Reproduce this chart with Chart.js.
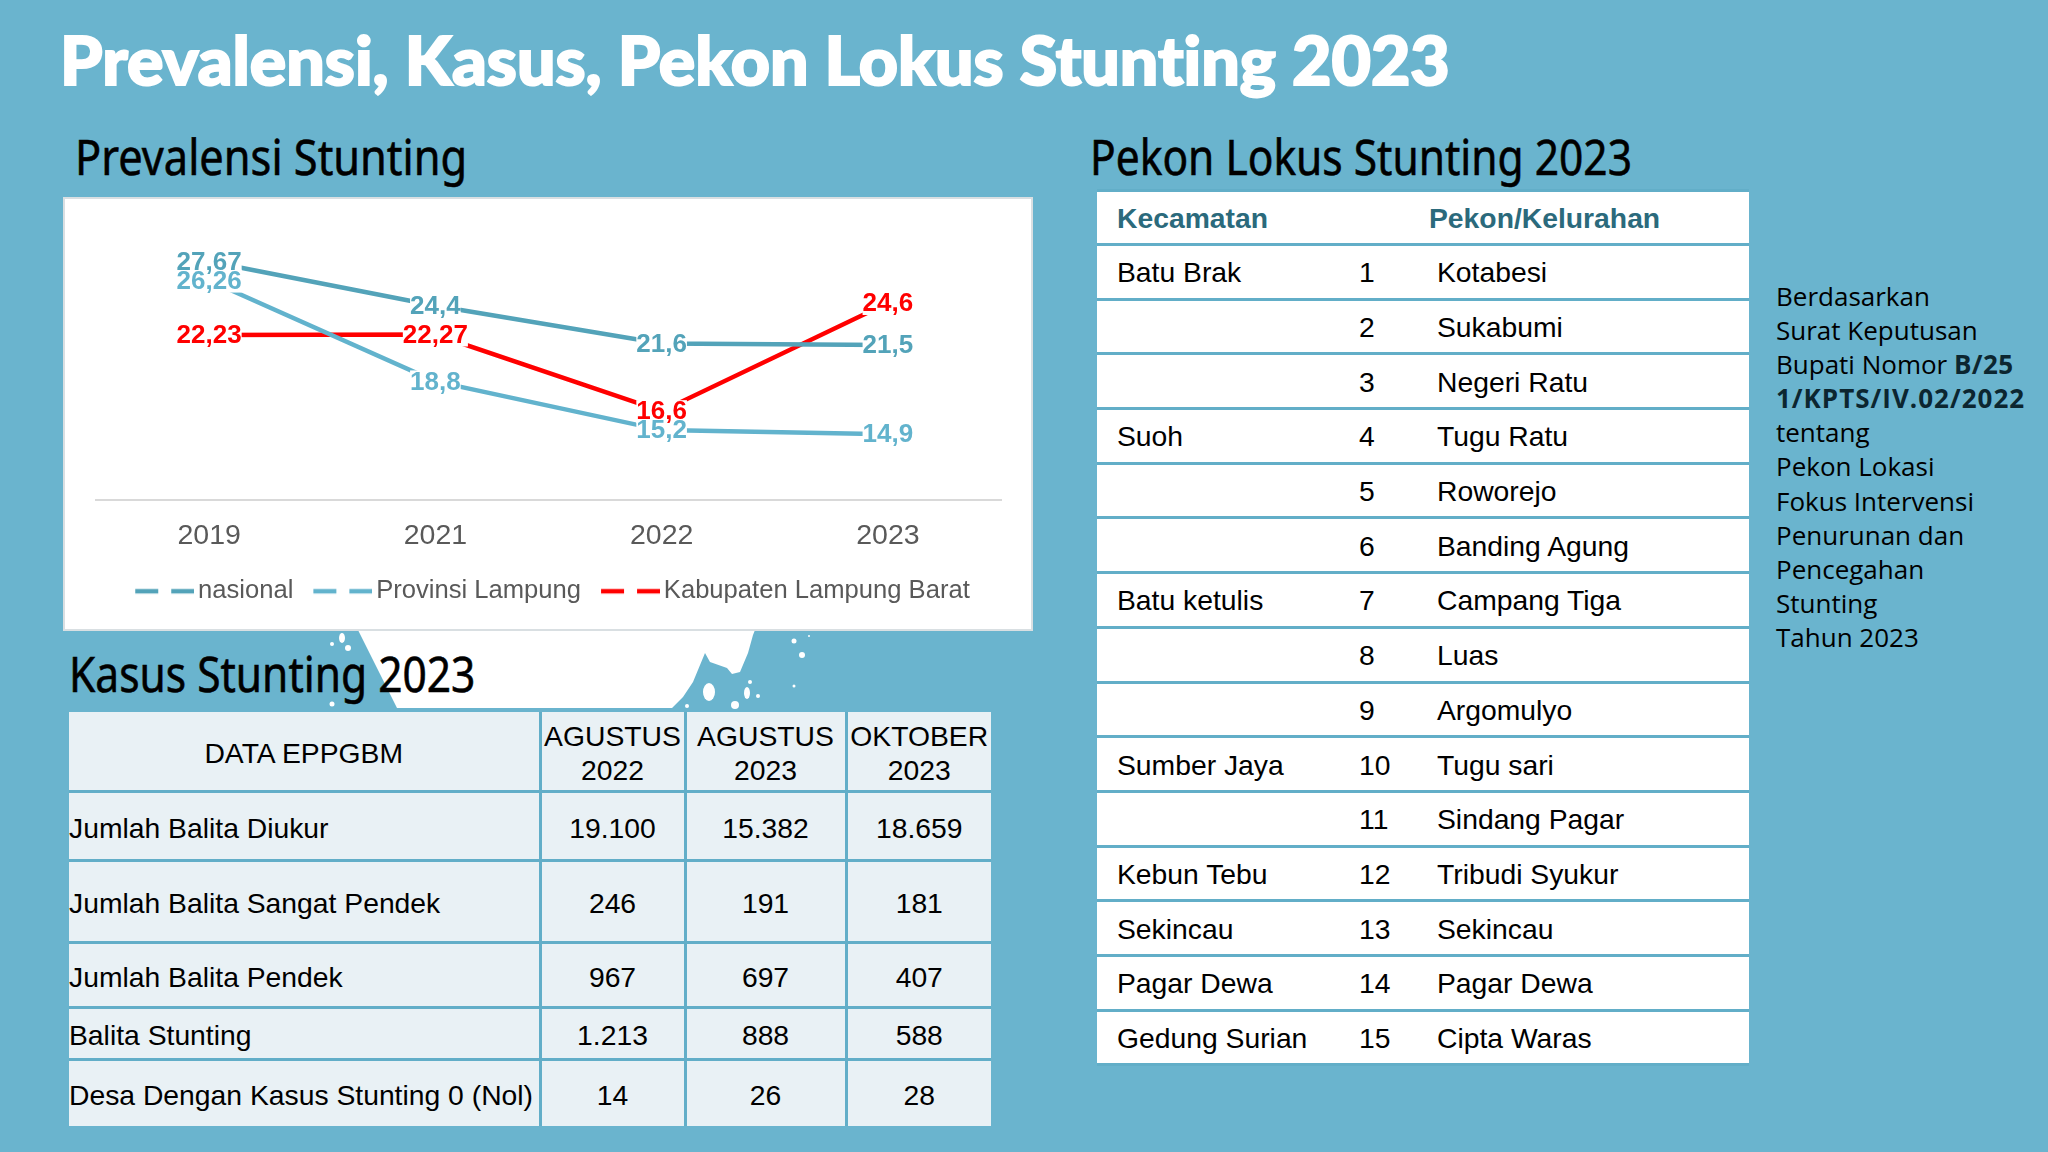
<!DOCTYPE html>
<html>
<head>
<meta charset="utf-8">
<script src="https://cdn.jsdelivr.net/npm/chart.js@4/dist/chart.umd.js"></script>
<style>
  html, body { margin: 0; padding: 0; }
  body { width: 2048px; height: 1152px; background: #6ab4ce; position: relative; overflow: hidden; font-family: "Liberation Sans", Arial, sans-serif; color: #000; }
  h1, h2, div.abs, table, canvas, svg { position: absolute; margin: 0; }
  h1 { left: 60px; top: 20px; font: 900 66px/80px Lato, sans-serif; color: #fff; white-space: nowrap; font-variant-ligatures: none; transform-origin: left top; transform: scaleX(1.03); -webkit-text-stroke: 2px #fff; }
  h2 { font: 400 50px/60px "Noto Sans", sans-serif; white-space: nowrap; transform-origin: left top; transform: scaleX(.85); -webkit-text-stroke: .6px #000; }
  #card { left: 65px; top: 199px; width: 966px; height: 430px; background: #fff; box-shadow: 0 0 0 2px #d9dfe2; }
  table { border-collapse: collapse; table-layout: fixed; font-size: 28.3px; }
  #kasus { left: 69px; top: 712px; width: 922px; }
  #kasus td { background: #e9f1f5; border: 3px solid #62aec8; text-align: center; padding: 4px 0 0; line-height: 34px; }
  #kasus tr:first-child td { border-top: 0; }
  #kasus tr:last-child td { border-bottom: 0; }
  #kasus td:first-child { border-left: 0; }
  #kasus td:last-child { border-right: 0; }
  #kasus td.left { text-align: left; white-space: nowrap; }
  #pekon { left: 1097px; top: 189px; width: 652px; background: #fff; }
  #pekon td { border-top: 3px solid #62aec8; border-bottom: 3px solid #62aec8; height: 49.7px; padding: 2px 0 0; white-space: nowrap; }
  #pekon th { border-bottom: 3px solid #62aec8; border-top: 3px solid #62aec8; height: 49px; padding: 2px 0 0; text-align: left; color: #2b6a7c; font-size: 28.3px; }
  #side { left: 1776px; top: 279px; width: 270px; font: 400 26px/34.1px "Open Sans", sans-serif; white-space: nowrap; }
  #side b { font-weight: 700; color: #0c2630; letter-spacing: .4px; }
  #side b.wide { letter-spacing: 1px; }
</style>
</head>
<body>

<svg width="2048" height="1152" style="left:0;top:0">
  <g fill="#fff">
    <polygon points="358,630 397,708 672,708 683,697 693,682 705,653 710,662 727,668 732,674 740,672 748,653 753,635 755,630" />
    <ellipse cx="342" cy="638" rx="3" ry="5" /><circle cx="348" cy="648" r="3" /><circle cx="332" cy="644" r="2" /><circle cx="332" cy="704" r="2.5" />
    <ellipse cx="709" cy="692" rx="6" ry="9" /><ellipse cx="747" cy="693" rx="3" ry="6" /><circle cx="750" cy="682" r="2" /><circle cx="758" cy="696" r="2" />
    <circle cx="687" cy="706" r="2" /><circle cx="735" cy="705" r="4" /><circle cx="794" cy="641" r="2.5" /><circle cx="802" cy="655" r="3" />
    <circle cx="809" cy="636" r="1" /><circle cx="794" cy="686" r="1.5" />
  </g>
</svg>

<h1>Prevalensi, Kasus, Pekon Lokus Stunting 2023</h1>
<h2 style="left:75px;top:126px;transform:scaleX(.867)">Prevalensi Stunting</h2>
<h2 style="left:1090px;top:126px">Pekon Lokus Stunting 2023</h2>
<h2 style="left:69px;top:643px">Kasus Stunting 2023</h2>

<div class="abs" id="card"></div>
<canvas id="mychart" width="968" height="432" style="left:64px;top:198px"></canvas>

<table id="kasus"></table>
<table id="pekon"></table>
<div class="abs" id="side"></div>

<script>
// chart values
const years = ['2019', '2021', '2022', '2023'];
const nasional = [27.67, 24.4, 21.6, 21.5];
const provinsi = [26.26, 18.8, 15.2, 14.9];
const kabupaten = [22.23, 22.27, 16.6, 24.6];

// kasus stunting table
const kasusHeader = ['DATA EPPGBM', 'AGUSTUS<br>2022', 'AGUSTUS<br>2023', 'OKTOBER<br>2023'];
const kasusRows = ['Jumlah Balita Diukur', 'Jumlah Balita Sangat Pendek', 'Jumlah Balita Pendek', 'Balita Stunting', 'Desa Dengan Kasus Stunting 0 (Nol)'];
const agustus2022 = ['19.100', '246', '967', '1.213', '14'];
const agustus2023 = ['15.382', '191', '697', '888', '26'];
const oktober2023 = ['18.659', '181', '407', '588', '28'];

// pekon lokus table
const kecamatan = ['Batu Brak', '', '', 'Suoh', '', '', 'Batu ketulis', '', '', 'Sumber Jaya', '', 'Kebun Tebu', 'Sekincau', 'Pagar Dewa', 'Gedung Surian'];
const pekon = ['Kotabesi', 'Sukabumi', 'Negeri Ratu', 'Tugu Ratu', 'Roworejo', 'Banding Agung', 'Campang Tiga', 'Luas', 'Argomulyo', 'Tugu sari', 'Sindang Pagar', 'Tribudi Syukur', 'Sekincau', 'Pagar Dewa', 'Cipta Waras'];

const sideLines = ['Berdasarkan', 'Surat Keputusan', 'Bupati Nomor <b>B/25</b>', '<b class="wide">1/KPTS/IV.02/2022</b>', 'tentang', 'Pekon Lokasi', 'Fokus Intervensi', 'Penurunan dan', 'Pencegahan', 'Stunting', 'Tahun 2023'];

// tables
const kasusWidths = [471, 145, 161, 145];
const kasusHeights = [79, 69, 82, 65, 52, 67];
let kasusHtml = '<colgroup>' + kasusWidths.map(w => `<col style="width:${w}px">`).join('') + '</colgroup>';
kasusHtml += `<tr style="height:${kasusHeights[0]}px">` + kasusHeader.map(h => `<td>${h}</td>`).join('') + '</tr>';
kasusRows.forEach((name, i) => {
  kasusHtml += `<tr style="height:${kasusHeights[i + 1]}px"><td class="left">${name}</td><td>${agustus2022[i]}</td><td>${agustus2023[i]}</td><td>${oktober2023[i]}</td></tr>`;
});
document.getElementById('kasus').innerHTML = kasusHtml;

let pekonHtml = '<colgroup><col style="width:20px"><col style="width:242px"><col style="width:78px"><col style="width:312px"></colgroup>';
pekonHtml += '<tr><th></th><th>Kecamatan</th><th></th><th style="position:relative;left:-8px">Pekon/Kelurahan</th></tr>';
pekon.forEach((name, i) => {
  pekonHtml += `<tr><td></td><td>${kecamatan[i]}</td><td>${i + 1}</td><td>${name}</td></tr>`;
});
document.getElementById('pekon').innerHTML = pekonHtml;

document.getElementById('side').innerHTML = sideLines.join('<br>');

// dashed sample for the legend, a bit wider than the box so it sits close to the text
function legendDash(color) {
  const c = document.createElement('canvas');
  c.width = 68; c.height = 8;
  const g = c.getContext('2d');
  g.strokeStyle = color; g.lineWidth = 4.5; g.setLineDash([23, 13]);
  g.beginPath(); g.moveTo(9, 4); g.lineTo(68, 4); g.stroke();
  return c;
}

// labels sit on a white box that cuts the line, like the original
const labelBoxes = {
  id: 'labelBoxes',
  afterLayout(chart) {
    chart.legend.left += 8; // legend sits slightly right of centre
  },
  afterDatasetsDraw(chart) {
    const ctx = chart.ctx;
    ctx.save();
    ctx.font = 'bold 26px "Liberation Sans"';
    ctx.textAlign = 'center';
    ctx.textBaseline = 'middle';
    const items = [];
    chart.data.datasets.forEach((ds, i) => {
      chart.getDatasetMeta(i).data.forEach((pt, j) => {
        items.push({ text: String(ds.data[j]).replace('.', ','), x: pt.x, y: pt.y, color: ds.borderColor });
      });
    });
    ctx.fillStyle = '#fff';
    items.forEach(it => {
      const w = ctx.measureText(it.text).width;
      ctx.fillRect(it.x - w / 2, it.y - 11, w, 23);
    });
    items.forEach(it => {
      ctx.fillStyle = it.color;
      ctx.fillText(it.text, it.x, it.y + 1);
    });
    ctx.restore();
  }
};

const colors = ['#53a3b9', '#62b3cd', '#ff0000'];

new Chart(document.getElementById('mychart'), {
  type: 'line',
  data: {
    labels: years,
    datasets: [
      { label: 'nasional', data: nasional, borderColor: colors[0], pointStyle: legendDash(colors[0]) },
      { label: 'Provinsi Lampung', data: provinsi, borderColor: colors[1], pointStyle: legendDash(colors[1]) },
      { label: 'Kabupaten Lampung Barat', data: kabupaten, borderColor: colors[2], pointStyle: legendDash(colors[2]) }
    ]
  },
  options: {
    responsive: false,
    animation: false,
    devicePixelRatio: 1,
    layout: { padding: { left: 32, right: 31, top: 32, bottom: 16 } },
    elements: {
      line: { borderWidth: 4.5, tension: 0 },
      point: { radius: 0 }
    },
    scales: {
      x: {
        offset: true,
        grid: { display: false },
        border: { color: '#d9d9d9', width: 2 },
        ticks: { color: '#595959', font: { family: 'Liberation Sans', size: 28.5 }, padding: 11 },
        afterFit(scale) { scale.height = 58; }
      },
      y: { display: false, min: 10, max: 30 }
    },
    plugins: {
      tooltip: { enabled: false },
      legend: {
        position: 'bottom',
        labels: {
          usePointStyle: true,
          pointStyleWidth: 50,
          color: '#595959',
          font: { family: 'Liberation Sans', size: 25.6 },
          padding: 20
        }
      }
    }
  },
  plugins: [labelBoxes]
});
</script>
</body>
</html>
